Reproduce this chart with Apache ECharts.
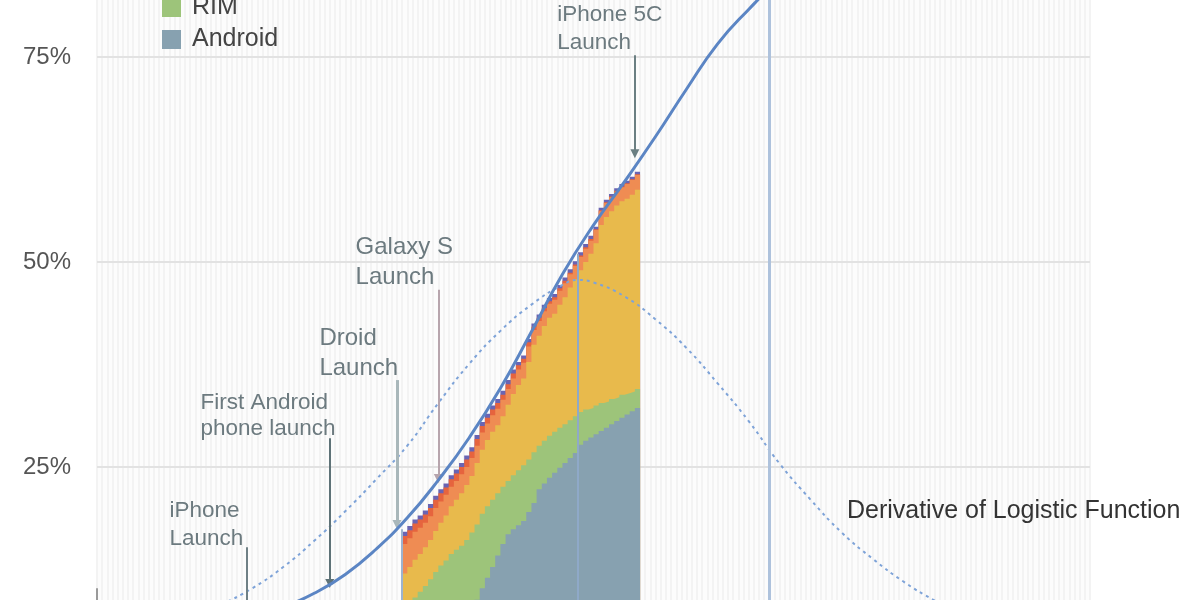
<!DOCTYPE html>
<html>
<head>
<meta charset="utf-8">
<script src="https://cdn.jsdelivr.net/npm/echarts@6/dist/echarts.min.js"></script>
<style>
html,body{margin:0;padding:0;background:#fff;}
#chart{width:1200px;height:600px;}
</style>
</head>
<body>
<div id="chart"></div>
<script>
// ---------- DATA ----------
const months = ['2009-12','2010-01','2010-02','2010-03','2010-04','2010-05','2010-06','2010-07','2010-08','2010-09','2010-10','2010-11',
'2010-12','2011-01','2011-02','2011-03','2011-04','2011-05','2011-06','2011-07','2011-08','2011-09','2011-10','2011-11',
'2011-12','2012-01','2012-02','2012-03','2012-04','2012-05','2012-06','2012-07','2012-08','2012-09','2012-10','2012-11',
'2012-12','2013-01','2013-02','2013-03','2013-04','2013-05','2013-06','2013-07','2013-08','2013-09','2013-10'];
const android = [0.9,1.1,1.4,1.7,2.1,2.6,3.1,3.7,4.2,4.8,5.4,6.1,7.0,7.9,8.8,10.2,11.5,12.8,14.2,15.6,16.8,17.4,17.9,18.4,19.5,20.6,22.3,23.0,23.7,24.3,24.9,25.5,26.1,26.7,27.7,28.2,28.6,29.0,29.4,29.8,30.2,30.6,31.0,31.4,31.8,32.2,32.8];
const rim = [6.7,7.2,7.7,8.1,8.4,8.7,9.1,9.3,9.4,9.6,9.5,9.3,9.1,9.1,9.2,9.1,8.7,8.2,7.6,7.0,6.5,6.6,6.7,6.8,6.4,6.2,5.3,5.2,5.1,5.0,4.9,4.7,4.6,4.5,4.0,3.8,3.6,3.5,3.4,3.2,3.1,2.9,2.8,2.6,2.4,2.3,2.0];
const apple = [4.4,4.5,4.6,4.6,4.7,4.8,5.0,5.2,5.5,5.8,6.1,6.4,6.7,6.9,7.5,7.8,8.1,8.3,8.3,8.6,9.3,9.9,10.4,10.6,11.9,13.1,13.4,14.0,14.4,14.4,15.0,15.5,16.2,16.7,17.3,18.0,18.8,19.8,21.7,22.5,22.9,23.4,23.6,23.7,24.0,24.3,24.9];
const microsoft = [3.6,3.5,3.4,3.2,3.0,2.9,2.8,2.6,2.5,2.4,2.3,2.3,2.2,2.2,2.1,2.1,2.0,2.0,2.0,2.0,1.9,1.9,1.9,1.9,1.9,1.8,1.8,1.8,1.7,1.7,1.7,1.7,1.6,1.6,1.6,1.6,1.6,1.6,1.7,1.7,1.7,1.7,1.7,1.8,1.8,1.8,1.9];
const palm = [1.0,1.0,1.0,1.0,1.0,1.0,1.0,1.0,0.9,0.9,0.9,0.9,0.9,0.8,0.8,0.8,0.7,0.7,0.7,0.6,0.6,0.6,0.5,0.5,0.5,0.4,0.4,0.4,0.3,0.3,0.3,0.3,0.2,0.2,0.2,0.2,0.2,0.1,0.1,0.1,0.1,0.1,0.1,0.1,0.1,0.1,0.1];
const symbian = [0.5,0.5,0.5,0.5,0.5,0.5,0.5,0.5,0.5,0.5,0.5,0.5,0.5,0.5,0.5,0.5,0.5,0.5,0.5,0.5,0.5,0.5,0.4,0.4,0.4,0.4,0.4,0.4,0.4,0.4,0.4,0.4,0.4,0.4,0.4,0.4,0.4,0.3,0.3,0.3,0.3,0.3,0.3,0.3,0.3,0.3,0.3];

// logistic fit
const logisticMonths = ['2008-01','2008-07','2009-01','2009-07','2010-01','2010-07','2011-01','2011-07','2012-01','2012-07','2013-01','2013-07','2014-01','2014-07','2015-01','2015-07','2016-01','2016-07'];
const logisticValues = [7.9,9.6,11.9,15.0,18.8,23.4,28.6,34.6,41.5,48.5,54.5,59.8,65.3,71.1,76.6,80.8,84.5,87.5];
// derivative of logistic (dotted)
const derivMonths = ['2006-07','2007-01','2007-07','2008-01','2008-07','2009-01','2009-07','2010-01','2010-07','2011-01','2011-07','2012-01','2012-07','2012-10','2013-01','2013-07','2014-01','2014-07','2015-01','2015-07','2016-01','2016-07','2017-01','2017-07','2018-01','2018-07','2019-01','2019-07'];
const derivValues = [6.4,8.2,10.2,12.8,16.0,19.6,23.5,27.6,32.8,37.6,41.6,44.8,47.2,47.8,47.5,45.8,43.0,39.5,35.2,30.6,25.4,21.0,17.0,13.8,11.0,8.7,6.8,5.2];

const yTicks = [25, 50, 75];
const yVisibleMin = 8.78, yVisibleMax = 81.95;   // the picture is a crop of a 0-100% chart
const axisStart = '2005-01', axisEnd = '2021-01';

// events
const events = [
  {text:'iPhone\nLaunch', month:'2007-06', from:15.2, to:0, textLeft:'2006-03', textY:18.0, size:22.5, lh:28, color:'#6f8085', width:2, arrow:false},
  {text:'First Android\nphone launch', month:'2008-10', from:28.5, to:10.8, textLeft:'2006-09', textY:31.3, size:22.5, lh:26, color:'#5f7378', width:2, arrow:true},
  {text:'Droid\nLaunch', month:'2009-11', from:35.6, to:18.0, textLeft:'2008-08', textY:38.8, size:24, lh:30, color:'#a9b7ba', width:3, arrow:true},
  {text:'Galaxy S\nLaunch', month:'2010-07', from:46.6, to:23.6, textLeft:'2009-03', textY:50.0, size:24, lh:30, color:'#b7a5ad', width:2, arrow:true},
  {text:'iPhone 5C\nLaunch', month:'2013-09', from:75.2, to:63.2, textLeft:'2012-06', textY:78.4, size:22.5, lh:28, color:'#6b7f82', width:2, arrow:true}
];
const guideLines = [
  {month:'2012-10', from:51.0, to:0, color:'#8fa9c8', width:2},
  {month:'2015-11', from:100, to:0, color:'#aec2dc', width:3},
  {month:'2009-12', from:17.4, to:0, color:'#9db3cf', width:2},
  {month:'2005-01', from:10.2, to:0, color:'#9a9a9a', width:2}
];
const derivLabel = {text:'Derivative of Logistic Function', month:'2017-02', y:19.6};

// ---------- HELPERS ----------
function mi(s){ const p = s.split('-'); return (parseInt(p[0]) - 2005) * 12 + (parseInt(p[1]) - 1); }
function clampY(v){ return Math.min(yVisibleMax, Math.max(yVisibleMin, v)); }
const xs = months.map(mi);

const FONT = '"Liberation Sans", Arial, sans-serif';
const layers = [
  {name:'Android', data:android, color:'#87a1b0'},
  {name:'RIM', data:rim, color:'#9dc47a'},
  {name:'Apple', data:apple, color:'#e8ba4c'},
  {name:'Microsoft', data:microsoft, color:'#ef8c53'},
  {name:'Palm', data:palm, color:'#e6643e'},
  {name:'Symbian', data:symbian, color:'#6a64b3'}
];
// cumulative tops of the stack
const cum = [];
let running = xs.map(() => 0);
layers.forEach(l => { running = running.map((v,i) => +(v + l.data[i]).toFixed(2)); cum.push(running.slice()); });

const series = [];
// horizontal gridlines (behind everything)
series.push({
  name:'grid', type:'line', data:[], silent:true, z:1,
  markLine:{silent:true, animation:false, symbol:'none', z:1,
    lineStyle:{color:'#e2e2e2', width:2, type:'solid'},
    label:{show:true, position:'start', distance:26, formatter:p => p.value + '%', color:'#555', fontSize:24, fontFamily:FONT},
    data: yTicks.map(v => ({yAxis:v}))}
});
// stacked areas: draw from the top layer down so each lower layer overlays the one above
for (let k = layers.length - 1; k >= 0; k--) {
  const l = layers[k];
  series.push({
    name:l.name, type:'line', step:'end',
    data: xs.map((x,i) => [x, cum[k][i]]), showSymbol:false, symbol:'none',
    lineStyle:{width:0}, areaStyle:{color:l.color, opacity:1, origin:'start'},
    itemStyle:{color:l.color}, z:2, silent:true
  });
}
series.push({
  name:'Derivative', type:'line', smooth:true, showSymbol:false, symbol:'none',
  data: derivMonths.map((m,i)=>[mi(m), derivValues[i]]),
  lineStyle:{color:'#7ea3d8', width:2, type:[3,4]}, z:3, silent:true
});
series.push({
  name:'Logistic', type:'line', smooth:true, showSymbol:false, symbol:'none',
  data: logisticMonths.map((m,i)=>[mi(m), logisticValues[i]]),
  lineStyle:{color:'#5b85c4', width:3}, z:5, silent:true
});

const markLines = [];
guideLines.forEach(g => {
  markLines.push([
    {coord:[mi(g.month), clampY(g.from)], symbol:'none', lineStyle:{color:g.color, width:g.width, type:'solid'}},
    {coord:[mi(g.month), clampY(g.to)], symbol:'none'}
  ]);
});
events.forEach(e => {
  markLines.push([
    {coord:[mi(e.month), clampY(e.from)], symbol:'none', lineStyle:{color:e.color, width:e.width, type:'solid'}},
    {coord:[mi(e.month), clampY(e.to)], symbol: e.arrow ? 'triangle' : 'none', symbolSize:[9,9], symbolRotate:180, itemStyle:{color:'#5f7075'}}
  ]);
});

const markPoints = events.map(e => ({
  coord:[mi(e.textLeft), e.textY], symbolSize:0,
  label:{show:true, position:'right', distance:0, formatter:e.text, color:'#6c7a7f',
    fontSize:e.size, lineHeight:e.lh, fontFamily:FONT, align:'left'}
}));
markPoints.push({
  coord:[mi(derivLabel.month), derivLabel.y], symbolSize:0,
  label:{show:true, position:'right', distance:0, formatter:derivLabel.text, color:'#333',
    fontSize:25, fontFamily:FONT}
});

series.push({
  name:'annotations', type:'line', data:[], silent:true, z:6,
  markLine:{silent:true, animation:false, label:{show:false}, data:markLines, z:4},
  markPoint:{silent:true, animation:false, symbol:'circle', data:markPoints}
});

const chart = echarts.init(document.getElementById('chart'), null, {renderer:'canvas'});
chart.setOption({
  animation:false,
  backgroundColor:'#ffffff',
  grid:{left:97, right:110, top:0, bottom:0, show:true, backgroundColor:'#fcfcfc', borderWidth:0},
  legend:{
    orient:'vertical', left:157, top:-138, itemWidth:19, itemHeight:19, itemGap:7,
    icon:'rect', selectedMode:false,
    data:['Symbian','Palm','Microsoft','Apple','RIM','Android'],
    textStyle:{fontSize:25, color:'#444', fontFamily:FONT, padding:[0,0,0,6]}
  },
  xAxis:{
    type:'value', min:mi(axisStart), max:mi(axisEnd), interval:1,
    axisLine:{show:false}, axisTick:{show:false}, axisLabel:{show:false},
    splitLine:{show:true, lineStyle:{color:'#f3f3f3', width:2}}
  },
  yAxis:{
    type:'value', min:yVisibleMin, max:yVisibleMax,
    axisLine:{show:false}, axisTick:{show:false}, axisLabel:{show:false},
    splitLine:{show:false}
  },
  series: series
});
</script>
</body>
</html>
